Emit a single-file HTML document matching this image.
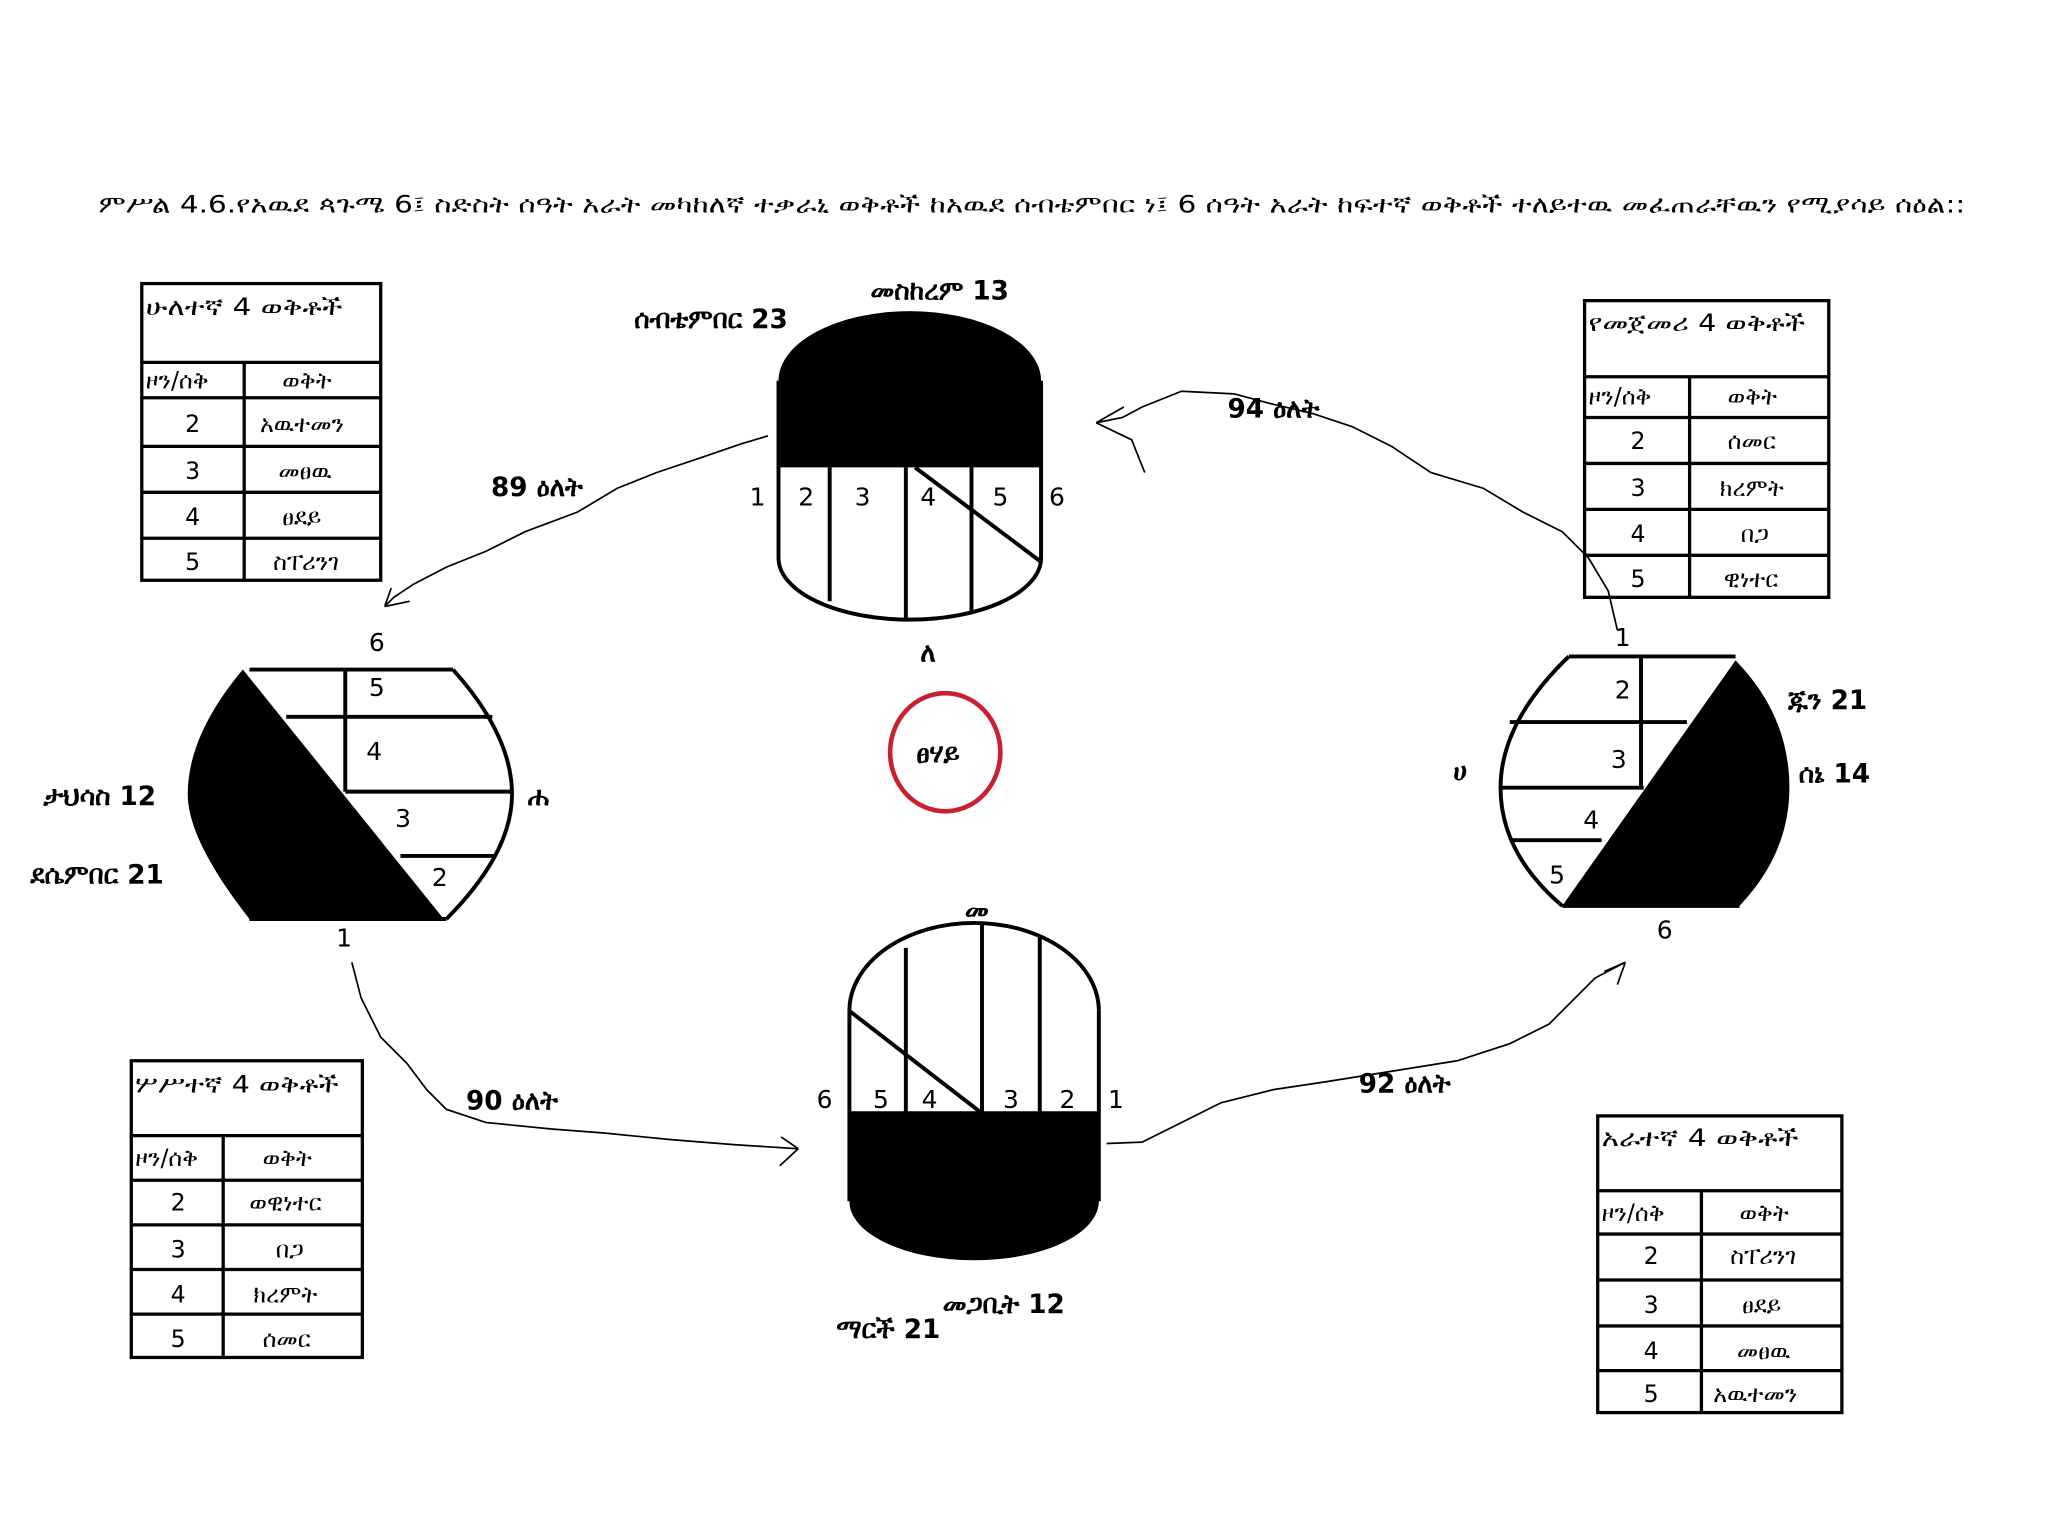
<!DOCTYPE html>
<html><head><meta charset="utf-8">
<style>
html,body{margin:0;padding:0;background:#fff;}
svg{display:block;}
text{font-family:"DejaVu Sans","Liberation Sans",sans-serif;fill:#000;}
.b{font-weight:bold;font-size:20px;}
.n{font-size:19px;}
.t{font-size:18px;}
</style></head><body>
<svg width="2048" height="1536" viewBox="0 0 1560 1170" xmlns="http://www.w3.org/2000/svg">
<rect width="1560" height="1170" fill="#fff"/>
<text x="75" y="162" font-size="18" textLength="1422" lengthAdjust="spacingAndGlyphs">ምሥል 4.6.የአዉደ ጳጉሜ 6፤ ስድስት ሰዓት አራት መካከለኛ ተቃራኒ ወቅቶች ከአዉደ  ሰብቴምበር ነ፤ 6 ሰዓት አራት ከፍተኛ ወቅቶች ተለይተዉ መፈጠራቸዉን የሚያሳይ ሰዕል::</text>

<g stroke="#000" stroke-width="2.5" fill="none">
<rect x="108" y="216" width="182" height="226"/>
<line x1="108" y1="276" x2="290" y2="276"/><line x1="108" y1="303" x2="290" y2="303"/><line x1="108" y1="340" x2="290" y2="340"/><line x1="108" y1="375" x2="290" y2="375"/><line x1="108" y1="410" x2="290" y2="410"/>
<line x1="186" y1="276" x2="186" y2="442"/>
<rect x="1207" y="229" width="186" height="226"/>
<line x1="1207" y1="287" x2="1393" y2="287"/><line x1="1207" y1="318" x2="1393" y2="318"/><line x1="1207" y1="353" x2="1393" y2="353"/><line x1="1207" y1="388" x2="1393" y2="388"/><line x1="1207" y1="423" x2="1393" y2="423"/>
<line x1="1287" y1="287" x2="1287" y2="455"/>
<rect x="100" y="808" width="176" height="226"/>
<line x1="100" y1="865" x2="276" y2="865"/><line x1="100" y1="899" x2="276" y2="899"/><line x1="100" y1="933" x2="276" y2="933"/><line x1="100" y1="967" x2="276" y2="967"/><line x1="100" y1="1001" x2="276" y2="1001"/>
<line x1="170" y1="865" x2="170" y2="1034"/>
<rect x="1217" y="850" width="186" height="226"/>
<line x1="1217" y1="907" x2="1403" y2="907"/><line x1="1217" y1="940" x2="1403" y2="940"/><line x1="1217" y1="975" x2="1403" y2="975"/><line x1="1217" y1="1010" x2="1403" y2="1010"/><line x1="1217" y1="1044" x2="1403" y2="1044"/>
<line x1="1296" y1="907" x2="1296" y2="1076"/>
</g>

<g class="t">
<text x="111" y="240" textLength="150" lengthAdjust="spacingAndGlyphs">ሁለተኛ 4 ወቅቶች</text>
<text x="111" y="296">ዞን/ሰቅ</text><text x="215" y="296">ወቅት</text>
<text x="141" y="329">2</text><text x="198" y="329">አዉተመን</text>
<text x="141" y="365">3</text><text x="212" y="365">መፀዉ</text>
<text x="141" y="400">4</text><text x="215" y="400">ፀደይ</text>
<text x="141" y="434">5</text><text x="208" y="434">ስፐሪንገ</text>

<text x="1210" y="252" textLength="165" lengthAdjust="spacingAndGlyphs">የመጀመሪ 4 ወቅቶች</text>
<text x="1210" y="308">ዞን/ሰቅ</text><text x="1316" y="308">ወቅት</text>
<text x="1242" y="342">2</text><text x="1316" y="342">ሰመር</text>
<text x="1242" y="378">3</text><text x="1310" y="378">ክረምት</text>
<text x="1242" y="413">4</text><text x="1326" y="413">በጋ</text>
<text x="1242" y="447">5</text><text x="1313" y="447">ዊነተር</text>

<text x="103" y="832" textLength="155" lengthAdjust="spacingAndGlyphs">ሦሥተኛ 4 ወቅቶች</text>
<text x="103" y="888">ዞን/ሰቅ</text><text x="200" y="888">ወቅት</text>
<text x="130" y="922">2</text><text x="190" y="922">ወዊነተር</text>
<text x="130" y="958">3</text><text x="210" y="958">በጋ</text>
<text x="130" y="992">4</text><text x="193" y="992">ክረምት</text>
<text x="130" y="1026">5</text><text x="200" y="1026">ሰመር</text>

<text x="1220" y="873" textLength="150" lengthAdjust="spacingAndGlyphs">አራተኛ 4 ወቅቶች</text>
<text x="1220" y="930">ዞን/ሰቅ</text><text x="1325" y="930">ወቅት</text>
<text x="1252" y="963">2</text><text x="1318" y="963">ስፐሪንገ</text>
<text x="1252" y="1000">3</text><text x="1327" y="1000">ፀደይ</text>
<text x="1252" y="1035">4</text><text x="1323" y="1035">መፀዉ</text>
<text x="1252" y="1068">5</text><text x="1305" y="1068">አዉተመን</text>
</g>

<!-- Top circle -->
<path d="M593,290 A100,53 0 0 1 793,290 L793,356 L593,356 Z" fill="#000"/>
<g stroke="#000" stroke-width="3" fill="none">
<line x1="593" y1="290" x2="593" y2="425"/><line x1="793" y1="290" x2="793" y2="425"/>
<path d="M593,425 A100,47 0 0 0 793,425"/>
<line x1="632" y1="356" x2="632" y2="458"/><line x1="690" y1="356" x2="690" y2="472"/><line x1="740" y1="356" x2="740" y2="465"/>
<line x1="697" y1="356" x2="793" y2="428"/>
</g>
<g class="n">
<text x="571" y="385">1</text><text x="608" y="385">2</text><text x="651" y="385">3</text><text x="701" y="385">4</text><text x="756" y="385">5</text><text x="799" y="385">6</text>
</g>
<text class="b" x="663" y="228">መስከረም 13</text>
<text class="b" x="483" y="250">ሰብቴምበር 23</text>
<text class="b" x="701" y="504">ለ</text>

<!-- Left circle -->
<path d="M185,510 L338,700 L190,700 Q143,640 143,605 Q143,560 185,510 Z" fill="#000"/>
<g stroke="#000" stroke-width="3" fill="none">
<line x1="190" y1="510" x2="345" y2="510"/><line x1="190" y1="700" x2="340" y2="700"/>
<path d="M345,510 Q390,560 390,605 Q390,650 340,700"/>
<line x1="218" y1="546" x2="375" y2="546"/><line x1="263" y1="603" x2="390" y2="603"/><line x1="305" y1="652" x2="378" y2="652"/>
<line x1="263" y1="510" x2="263" y2="603"/>
</g>
<g class="n">
<text x="281" y="496">6</text><text x="281" y="530">5</text><text x="279" y="579">4</text><text x="301" y="630">3</text><text x="329" y="675">2</text><text x="256" y="721">1</text>
</g>
<text class="b" x="402" y="613">ሐ</text>
<text class="b" x="33" y="613">ታህሳስ 12</text>
<text class="b" x="23" y="673">ደሴምበር 21</text>

<!-- Right circle -->
<path d="M1322,503 L1190,690 L1325,690 Q1363,650 1363,600 Q1363,545 1322,503 Z" fill="#000"/>
<g stroke="#000" stroke-width="3" fill="none">
<line x1="1195" y1="500" x2="1322" y2="500"/><line x1="1190" y1="690" x2="1325" y2="690"/>
<path d="M1195,500 Q1143,550 1143,600 Q1143,650 1190,690"/>
<line x1="1150" y1="550" x2="1285" y2="550"/><line x1="1143" y1="600" x2="1252" y2="600"/><line x1="1150" y1="640" x2="1220" y2="640"/>
<line x1="1250" y1="500" x2="1250" y2="600"/>
</g>
<g class="n">
<text x="1230" y="492">1</text><text x="1230" y="532">2</text><text x="1227" y="585">3</text><text x="1206" y="631">4</text><text x="1180" y="673">5</text><text x="1262" y="715">6</text>
</g>
<text class="b" x="1107" y="594">ሀ</text>
<text class="b" x="1362" y="540">ጁን 21</text>
<text class="b" x="1370" y="596">ሰኔ 14</text>

<!-- Bottom circle -->
<path d="M647,848 L837,848 L837,915 A95,45 0 0 1 647,915 Z" fill="#000"/>
<g stroke="#000" stroke-width="3" fill="none">
<path d="M647,770 A95,67 0 0 1 837,770"/>
<line x1="647" y1="770" x2="647" y2="915"/><line x1="837" y1="770" x2="837" y2="915"/>
<line x1="647" y1="848" x2="837" y2="848"/>
<line x1="690" y1="722" x2="690" y2="848"/><line x1="748" y1="703" x2="748" y2="848"/><line x1="792" y1="713" x2="792" y2="848"/>
<line x1="647" y1="770" x2="748" y2="848"/>
</g>
<g class="n">
<text x="622" y="844">6</text><text x="665" y="844">5</text><text x="702" y="844">4</text><text x="764" y="844">3</text><text x="807" y="844">2</text><text x="844" y="844">1</text>
</g>
<text class="b" x="735" y="700">መ</text>
<text class="b" x="718" y="1000">መጋቢት 12</text>
<text class="b" x="637" y="1019">ማርች 21</text>

<ellipse cx="720" cy="573" rx="42" ry="45" fill="none" stroke="#c8202e" stroke-width="3.5"/>
<text class="b" x="698" y="581" font-size="18">ፀሃይ</text>

<g stroke="#000" stroke-width="1.3" fill="none">
<path d="M585,332 L565,338 L530,350 L500,360 L470,372 L440,390 L400,405 L370,420 L340,432 L315,445 L300,455 L293,462"/>
<path d="M293,462 L298,448 M293,462 L312,458"/>
<path d="M1232,480 L1225,450 L1210,425 L1190,405 L1160,390 L1130,372 L1090,360 L1060,340 L1030,325 L1000,315 L970,308 L940,300 L900,298 L870,310 L855,318 L835,322"/>
<path d="M835,322 L856,310 M835,322 L862,335 L872,360"/>
<path d="M268,733 L275,760 L290,790 L310,810 L325,830 L340,845 L370,855 L420,860 L460,863 L510,868 L560,872 L608,875"/>
<path d="M608,875 L595,866 M608,875 L594,888"/>
<path d="M843,871 L870,870 L900,855 L930,840 L970,830 L1010,824 L1060,816 L1110,808 L1150,795 L1180,780 L1200,760 L1215,745 L1238,733"/>
<path d="M1238,733 L1222,740 M1238,733 L1232,750"/>
</g>
<text class="b" x="374" y="378">89 ዕለት</text>
<text class="b" x="935" y="318">94 ዕለት</text>
<text class="b" x="355" y="845">90 ዕለት</text>
<text class="b" x="1035" y="832">92 ዕለት</text>
</svg>
</body></html>
